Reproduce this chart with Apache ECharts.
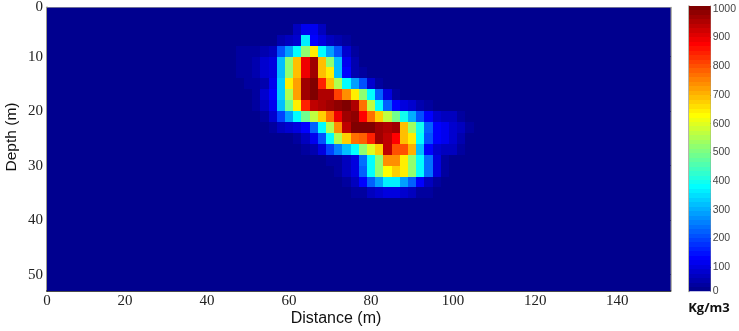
<!DOCTYPE html>
<html><head><meta charset="utf-8">
<style>html,body{margin:0;padding:0;background:#fff}#c{width:739px;height:331px}</style>
<script src="https://cdn.jsdelivr.net/npm/echarts@6/dist/echarts.min.js"></script>
</head><body><div id="c"></div>
<script>
// Cell centres (m). The sections below hold density (Kg/m3) at distanceCols, by depth.
const distanceCols = [48,50,52,54,56,58,60,62,64,66,68,70,72,74,76,78,80,82,84,86,88,90,92,94,96,98,100,102,104];
const depth5  = [0,0,0,0,0,0,0,60,100,100,60,0,0,0,0,0,0,0,0,0,0,0,0,0,0,0,0,0,0];
const depth7  = [0,0,0,0,0,35,50,65,350,115,80,55,35,20,0,0,0,0,0,0,0,0,0,0,0,0,0,0,0];
const depth9  = [20,20,30,35,50,190,280,370,500,635,370,280,190,65,30,0,0,0,0,0,0,0,0,0,0,0,0,0,0];
const depth11 = [20,30,40,70,80,300,500,680,880,955,680,500,300,95,40,0,0,0,0,0,0,0,0,0,0,0,0,0,0];
const depth13 = [20,20,35,65,90,310,500,680,880,955,680,640,300,110,45,20,0,0,0,0,0,0,0,0,0,0,0,0,0];
const depth15 = [0,20,25,40,95,320,640,715,955,985,830,685,540,370,280,190,65,25,0,0,0,0,0,0,0,0,0,0,0];
const depth17 = [0,0,20,65,115,320,540,715,955,1000,940,940,800,730,640,500,370,210,80,25,0,0,0,0,0,0,0,0,0];
const depth19 = [0,0,20,60,105,300,470,640,830,925,940,955,970,985,940,750,550,370,210,115,85,65,45,20,0,0,0,0,0];
const depth21 = [0,0,0,20,65,175,280,370,470,550,660,760,880,955,970,870,750,670,550,480,375,290,200,115,70,55,50,25,0];
const depth23 = [0,0,0,0,25,50,65,85,115,215,370,540,730,935,1000,1000,985,955,940,955,680,520,375,210,115,100,75,55,20];
const depth25 = [0,0,0,0,0,0,0,25,50,100,190,370,540,660,750,770,830,955,935,870,680,640,370,200,115,100,70,40,0];
const depth27 = [0,0,0,0,0,0,0,0,20,40,85,180,240,300,370,500,580,670,925,790,790,690,300,115,70,55,50,25,0];
const depth29 = [0,0,0,0,0,0,0,0,0,0,0,20,25,50,85,225,370,500,730,730,640,500,370,225,90,20,0,0,0];
const depth31 = [0,0,0,0,0,0,0,0,0,0,0,0,20,50,85,210,370,500,610,670,640,500,370,225,90,20,0,0,0];
const depth33 = [0,0,0,0,0,0,0,0,0,0,0,0,0,25,60,115,210,280,350,350,280,210,115,60,20,0,0,0,0];
const depth35 = [0,0,0,0,0,0,0,0,0,0,0,0,0,0,20,30,50,65,80,80,65,50,30,20,0,0,0,0,0];
const depthRows = {5:depth5,7:depth7,9:depth9,11:depth11,13:depth13,15:depth15,17:depth17,19:depth19,21:depth21,23:depth23,25:depth25,27:depth27,29:depth29,31:depth31,33:depth33,35:depth35};

const xTickLabels = [20,40,60,80,100,120,140];
const yTickLabels = [10,20,30,40,50];
const barTickLabels = [100,200,300,400,500,600,700,800,900,1000];

// MATLAB-style 64 level jet palette
function jet(v){
  const i = Math.min(64, Math.floor(Math.max(v,0)/1000*64)+1), t = i/64;
  const ch = c => Math.round(255*Math.max(0,Math.min(1,1.5-Math.abs(4*t-c))));
  return `rgb(${ch(3)},${ch(2)},${ch(1)})`;
}

const cells = [];
for (let y=1; y<=53; y+=2) for (let x=2; x<=152; x+=2) {
  const row = depthRows[y], k = distanceCols.indexOf(x);
  cells.push([x, y, row && k>=0 ? row[k] : 0]);
}
const barLevels = [];
for (let i=0; i<64; i++) barLevels.push([i, (i+0.5)/64*1000]);

function snapRect(api, params, x0, y0, x1, y1){
  const a = api.coord([x0,y0]), b = api.coord([x1,y1]);
  const left=Math.round(Math.min(a[0],b[0])), right=Math.round(Math.max(a[0],b[0]));
  const top=Math.round(Math.min(a[1],b[1])), bottom=Math.round(Math.max(a[1],b[1]));
  return echarts.graphic.clipRectByRect({x:left,y:top,width:right-left,height:bottom-top},
    {x:params.coordSys.x,y:params.coordSys.y,width:params.coordSys.width,height:params.coordSys.height});
}

const gray='#9c9c90', serif='"Liberation Serif"', sans='"Liberation Sans"';
const barMin=15, barMax=1010, barStep=(barMax-barMin)/64;

const chart = echarts.init(document.getElementById('c'), null, {renderer:'canvas'});
chart.setOption({
  animation:false,
  backgroundColor:'#fff',
  grid:[
    {left:47,top:7,width:623.5,height:284,show:true,backgroundColor:'#00008f',borderWidth:0},
    {left:689,top:6,width:24,height:285.5,show:false}
  ],
  xAxis:[
    {gridIndex:0,type:'value',min:1,max:153,position:'bottom',splitLine:{show:false},
     axisLine:{show:true,onZero:false,lineStyle:{color:'#111',width:1.5}},
     axisTick:{show:true,inside:true,length:5,customValues:xTickLabels,lineStyle:{color:'#111'}},
     axisLabel:{show:true,customValues:[1,...xTickLabels],formatter:v=>v===1?'0':String(v),margin:3,
       fontFamily:serif,fontSize:15,color:'#222'}},
    {gridIndex:0,type:'value',min:1,max:153,position:'top',splitLine:{show:false},
     axisLine:{show:true,onZero:false,lineStyle:{color:gray,width:1.5}},axisTick:{show:false},axisLabel:{show:false}},
    {gridIndex:1,type:'value',min:0,max:1,show:false},
  ],
  yAxis:[
    {gridIndex:0,type:'value',inverse:true,min:1,max:53,position:'left',splitLine:{show:false},
     axisLine:{show:true,onZero:false,lineStyle:{color:gray,width:2}},
     axisTick:{show:true,inside:true,length:5,customValues:yTickLabels,lineStyle:{color:'#111'}},
     axisLabel:{show:true,customValues:[1,...yTickLabels],formatter:v=>v===1?'0':String(v),margin:4,
       fontFamily:serif,fontSize:15,color:'#222'}},
    {gridIndex:0,type:'value',inverse:true,min:1,max:53,position:'right',splitLine:{show:false},
     axisLine:{show:true,onZero:false,lineStyle:{color:gray,width:1.5}},
     axisTick:{show:true,inside:true,length:5,customValues:yTickLabels,lineStyle:{color:'#111'}},
     axisLabel:{show:false}},
    {gridIndex:1,type:'value',min:barMin,max:barMax,position:'right',splitLine:{show:false},
     axisLine:{show:true,onZero:false,lineStyle:{color:gray,width:1}},
     axisTick:{show:true,inside:true,length:3,customValues:barTickLabels.slice(0,-1),lineStyle:{color:'#333'}},
     axisLabel:{show:true,customValues:[barMin,...barTickLabels],formatter:v=>v===barMin?'0':String(v),margin:2,
       fontFamily:sans,fontSize:10.5,color:'#444'}},
    {gridIndex:1,type:'value',min:barMin,max:barMax,position:'left',splitLine:{show:false},
     axisLine:{show:true,onZero:false,lineStyle:{color:gray,width:1.5}},
     axisTick:{show:true,inside:true,length:3,customValues:barTickLabels.slice(0,-1),lineStyle:{color:'#333'}},
     axisLabel:{show:false}},
  ],
  series:[
    {type:'custom',xAxisIndex:0,yAxisIndex:0,data:cells,encode:{x:0,y:1},clip:true,progressive:0,z:1,
     renderItem:(params,api)=>{
       const x=api.value(0),y=api.value(1),v=api.value(2);
       const r=snapRect(api,params,x-1,y-1,x+1,y+1);
       return r&&{type:'rect',shape:r,style:{fill:jet(v)}};
     }},
    {type:'custom',xAxisIndex:2,yAxisIndex:2,data:barLevels,clip:true,progressive:0,z:1,encode:{y:1},
     renderItem:(params,api)=>{
       const i=api.value(0),v=api.value(1);
       const r=snapRect(api,params,0,barMin+i*barStep,1,barMin+(i+1)*barStep);
       return r&&{type:'rect',shape:r,style:{fill:jet(v)}};
     }}
  ],
  graphic:[
    {type:'text',x:12,y:137,rotation:Math.PI/2,originX:0,originY:0,
     style:{text:'Depth (m)',font:`15.5px ${sans}`,fill:'#111',align:'center',verticalAlign:'middle'}},
    {type:'text',x:336,y:319,style:{text:'Distance (m)',font:`16px ${sans}`,fill:'#111',align:'center',verticalAlign:'middle'}},
    {type:'text',x:709,y:308,style:{text:'Kg/m3',font:`bold 13px "Open Sans"`,fill:'#111',align:'center',verticalAlign:'middle'}}
  ]
});
</script></body></html>
